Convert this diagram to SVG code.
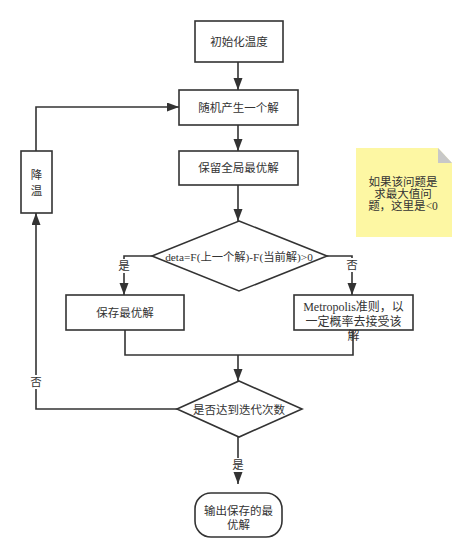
<svg xmlns="http://www.w3.org/2000/svg" width="474" height="559" viewBox="0 0 474 559">
<defs>
<style>
.box{fill:#fff;stroke:#333;stroke-width:1.6}
.t{font-family:"Liberation Sans","Noto Sans CJK SC",sans-serif;font-size:11.5px;fill:#333;text-anchor:middle;dominant-baseline:central}
.s{font-family:"Liberation Serif","Noto Sans CJK SC",serif;font-size:11.3px;fill:#333;text-anchor:middle;dominant-baseline:central}
.e{fill:none;stroke:#333;stroke-width:1.6}
.lb{fill:#fff}
</style>
<marker id="ah" markerUnits="userSpaceOnUse" markerWidth="12" markerHeight="10" refX="12" refY="4.5" orient="auto">
<path d="M0,0 L12,4.5 L0,9 Z" fill="#333"/>
</marker>
</defs>
<rect width="474" height="559" fill="#fff"/>
<g id="connectors">
<path class="e" d="M238,62 V90" marker-end="url(#ah)"/>
<path class="e" d="M238,125 V151" marker-end="url(#ah)"/>
<path class="e" d="M238,185 V221" marker-end="url(#ah)"/>
<path class="e" d="M152,256 H124 V295" marker-end="url(#ah)"/>
<path class="e" d="M326,256 H352 V295" marker-end="url(#ah)"/>
<path class="e" d="M125,330 V355 H353 V330"/>
<path class="e" d="M238,355 V381" marker-end="url(#ah)"/>
<path class="e" d="M177,409 H36 V213" marker-end="url(#ah)"/>
<path class="e" d="M36,151 V107 H179" marker-end="url(#ah)"/>
<path class="e" d="M238,437 V484" marker-end="url(#ah)"/>
<rect class="lb" x="117" y="259" width="14" height="14"/>
<text class="t" x="124" y="266">是</text>
<rect class="lb" x="345" y="258" width="14" height="14"/>
<text class="t" x="352" y="265">否</text>
<rect class="lb" x="29" y="375" width="14" height="14"/>
<text class="t" x="36" y="382">否</text>
<rect class="lb" x="231" y="458" width="14" height="14"/>
<text class="t" x="238" y="465">是</text>
</g>
<g id="init">
<rect class="box" x="195" y="21" width="88" height="41"/>
<text class="t" x="239" y="42">初始化温度</text>
</g>
<g id="random">
<rect class="box" x="179" y="90" width="119" height="35"/>
<text class="t" x="238.5" y="107.5">随机产生一个解</text>
</g>
<g id="keep">
<rect class="box" x="179" y="151" width="119" height="34"/>
<text class="t" x="238.5" y="168">保留全局最优解</text>
</g>
<g id="cool">
<rect class="box" x="21" y="151" width="31" height="62"/>
<text class="t" x="36.5" y="175">降</text>
<text class="t" x="36.5" y="191">温</text>
</g>
<g id="deta">
<polygon class="box" points="239,221 327,256 239,291 152,256"/>
<text class="s" x="239" y="257">deta=F(上一个解)-F(当前解)&gt;0</text>
</g>
<g id="savebest">
<rect class="box" x="66" y="295" width="118" height="35"/>
<text class="t" x="125" y="312.5">保存最优解</text>
</g>
<g id="metropolis">
<rect class="box" x="294" y="295" width="119" height="35"/>
<text class="s" x="353.5" y="307" style="font-size:12px">Metropolis准则，以</text>
<text class="s" x="353.5" y="322" style="font-size:12px">一定概率去接受该</text>
<text class="s" x="353.5" y="336" style="font-size:12px">解</text>
</g>
<g id="iter">
<polygon class="box" points="239,381 302,409 239,437 177,409"/>
<text class="t" x="239" y="409.5">是否达到迭代次数</text>
</g>
<g id="output">
<rect class="box" x="195" y="493" width="87" height="44" rx="16" ry="16"/>
<text class="t" x="238.5" y="511">输出保存的最</text>
<text class="t" x="238.5" y="525">优解</text>
</g>
<g id="note">
<polygon points="356,148 438,148 452,163 452,237 356,237" fill="#fdf7a3"/>
<polygon points="438,148 452,163 438,163" fill="#c8c8c8"/>
<text class="t" x="403" y="182">如果该问题是</text>
<text class="t" x="403" y="194">求最大值问</text>
<text class="t" x="403" y="206">题，这里是<tspan style="font-family:'Liberation Serif',serif">&lt;0</tspan></text>
</g>
</svg>
